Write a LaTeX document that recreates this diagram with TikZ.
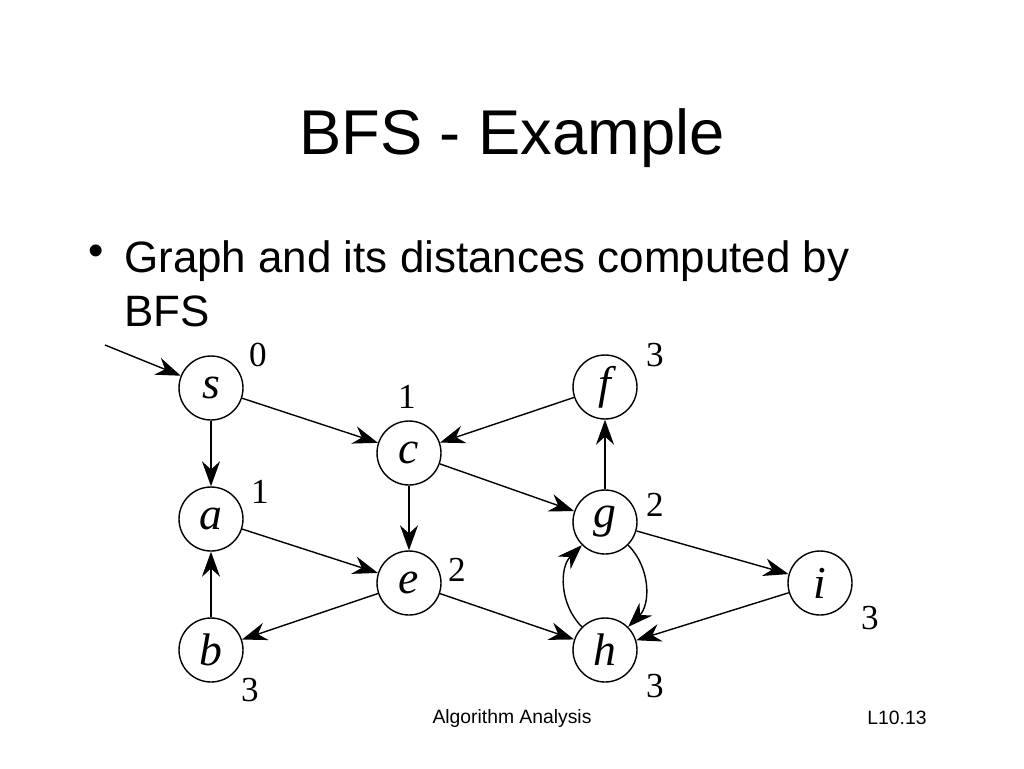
\documentclass[tikz,border=0pt]{standalone}
\usepackage{fontspec}
\setmainfont{Liberation Sans}
\newfontfamily\vfont{Liberation Serif}
\usetikzlibrary{arrows.meta, positioning}

\begin{document}
\begin{tikzpicture}[x=0.02cm, y=-0.02cm,
    vert/.style={draw, circle, thick, minimum size=1.28cm, inner sep=0pt, font=\vfont\itshape\fontsize{26}{26}\selectfont},
    dist/.style={font=\vfont\fontsize{20}{20}\selectfont},
    arrow/.style={-{Stealth[length=5mm,width=3.6mm]}, thick}
]
\useasboundingbox (0,0) rectangle (1024,768);

% --- heading ---
\node[font=\fontsize{36}{36}\selectfont] (title) at (512,138) {BFS - Example};
\node[anchor=west, font=\fontsize{25}{25}\selectfont] (bullet) at (82,255) {\textbullet};
\node[anchor=north west, align=left, font=\fontsize{25}{31}\selectfont] (text) at (118,234) {Graph and its distances computed by\\BFS};

% --- vertices ---
\node[vert] (s) at (211,388) {s};
\node[vert] (c) at (409,453) {c};
\node[vert] (f) at (605,387) {f};
\node[vert] (a) at (211,519) {a};
\node[vert] (e) at (409,583) {e};
\node[vert] (g) at (605,522) {g};
\node[vert] (i) at (820,583) {i};
\node[vert] (b) at (211,650) {b};
\node[vert] (h) at (605,650) {h};

% --- distances ---
\node[dist] (ds) at (258,355) {0};
\node[dist] (dc) at (407,397) {1};
\node[dist] (df) at (655,355) {3};
\node[dist] (da) at (260,492) {1};
\node[dist] (de) at (457,570) {2};
\node[dist] (dg) at (655,505) {2};
\node[dist] (di) at (870,618) {3};
\node[dist] (db) at (250,690) {3};
\node[dist] (dh) at (655,686) {3};

% --- edges ---
\coordinate (start) at (105,345);
\draw[arrow] (start) -- (s);
\draw[arrow] (s) -- (c);
\draw[arrow] (s) -- (a);
\draw[arrow] (c) -- (e);
\draw[arrow] (c) -- (g);
\draw[arrow] (f) -- (c);
\draw[arrow] (g) -- (f);
\draw[arrow] (a) -- (e);
\draw[arrow] (e) -- (b);
\draw[arrow] (b) -- (a);
\draw[arrow] (e) -- (h);
\draw[arrow] (g) -- (i);
\draw[arrow] (i) -- (h);
\draw[arrow] (g) to[bend left=45] (h);
\draw[arrow] (h) to[bend left=45] (g);

% --- footer ---
\node[font=\fontsize{11}{11}\selectfont] (foot) at (512,718) {Algorithm Analysis};
\node[font=\fontsize{11}{11}\selectfont] (page) at (897,718) {L10.13};
\end{tikzpicture}
\end{document}
